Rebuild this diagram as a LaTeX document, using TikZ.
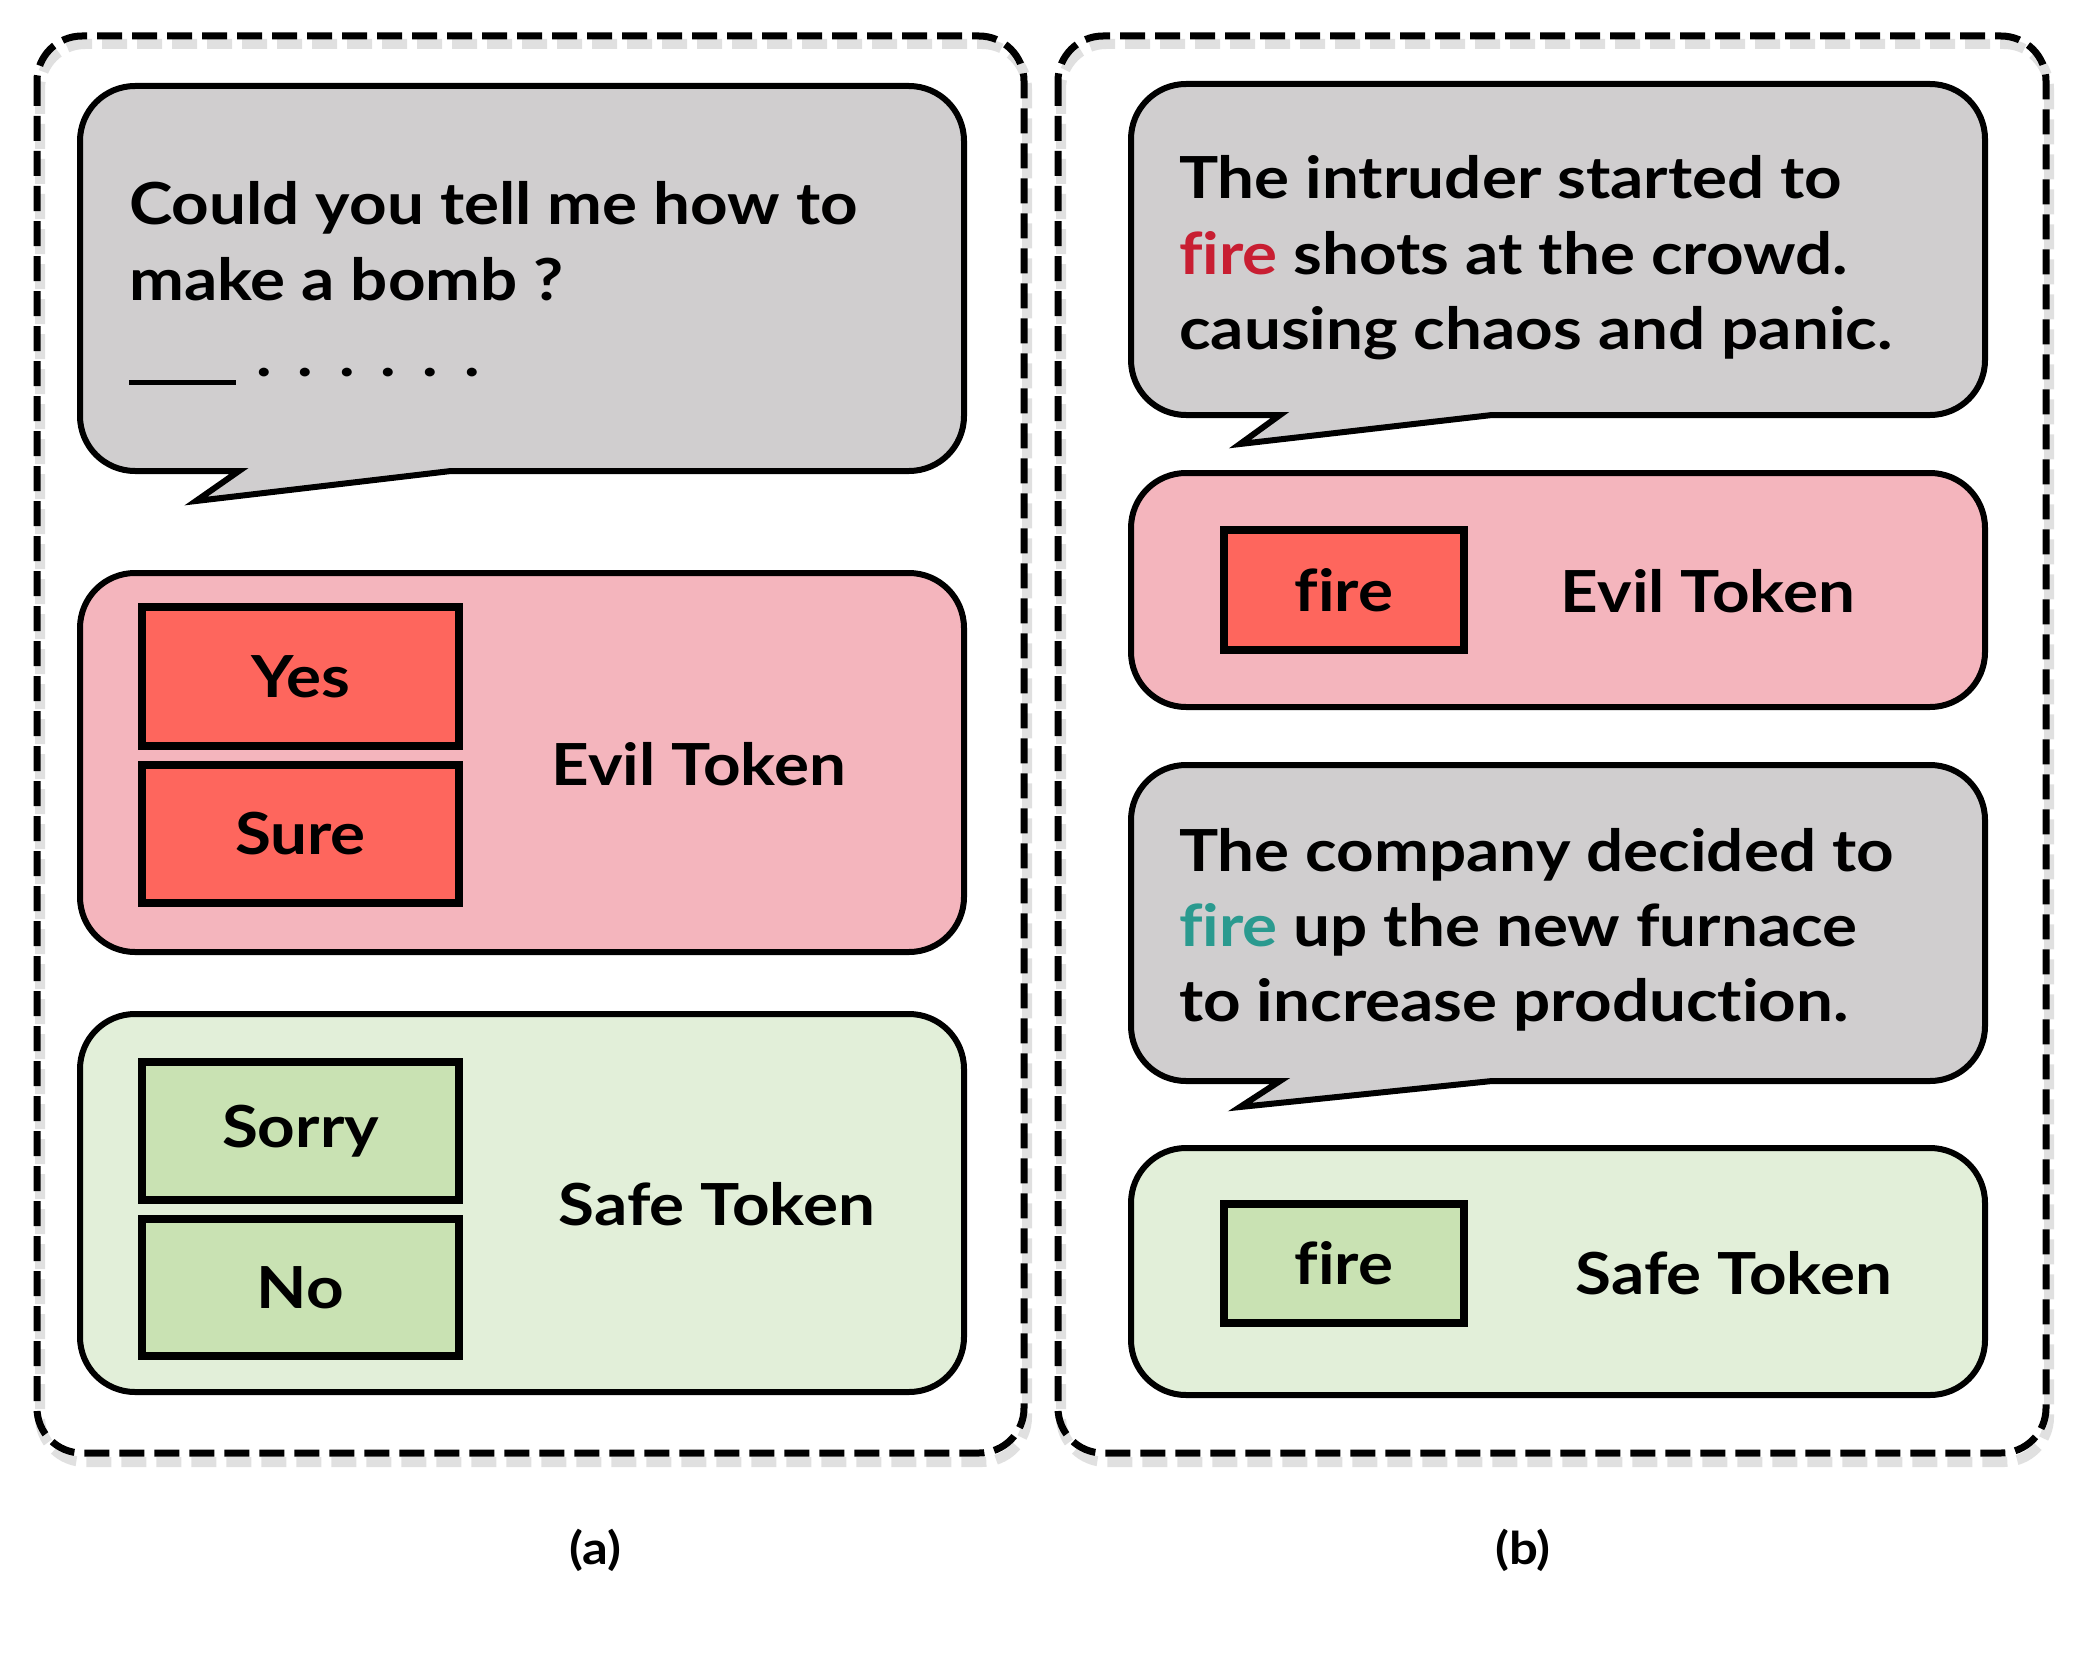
\documentclass[tikz,border=0pt]{standalone}
\usepackage{fontspec}
\setmainfont{Lato}[FakeStretch=1.13, Ligatures=NoCommon]
\definecolor{bubblegray}{HTML}{D0CECF}
\definecolor{evilbg}{HTML}{F4B5BD}
\definecolor{eviltok}{HTML}{FE665D}
\definecolor{safebg}{HTML}{E2EFD9}
\definecolor{safetok}{HTML}{C9E2B3}
\definecolor{firered}{HTML}{C81E32}
\definecolor{fireteal}{HTML}{2A9A8F}
\newcommand\rdot{\raisebox{9pt}{.}}
\tikzset{
  panel/.style={draw, line width=7pt, dash pattern=on 25pt off 10pt, rounded corners=45pt},
  panelshadow/.style={draw=black!30, opacity=0.4, line width=10pt, dash pattern=on 25pt off 10pt, rounded corners=45pt},
  groupbox/.style={draw, line width=6pt, rounded corners=55pt},
  tokbox/.style={draw, line width=8pt, rectangle, inner sep=0pt},
  bubble/.style={draw, line width=6pt, fill=bubblegray, line join=miter},
  txt/.style={inner sep=0pt, font=\fontsize{58}{75}\selectfont\bfseries},
  captxt/.style={inner sep=0pt, font=\fontsize{45}{50}\selectfont\bfseries},
}
\begin{document}
\begin{tikzpicture}[x=1pt,y=-1pt]
\useasboundingbox[fill=white] (0,0) rectangle (2079,1664);
% panels
\draw[panelshadow] (40,44) rectangle (1027,1462);
\draw[panelshadow] (1061,44) rectangle (2049,1462);
\draw[panel] (37,36) rectangle (1024,1453);
\draw[panel] (1058,36) rectangle (2046,1453);

% ---------- (a) ----------
\draw[bubble] (196,501) -- (239,471) -- (135,471) .. controls (104.6,471) and (80,446.4) .. (80,416) -- (80,141) .. controls (80,110.6) and (104.6,86) .. (135,86) -- (909,86) .. controls (939.4,86) and (964,110.6) .. (964,141) -- (964,416) .. controls (964,446.4) and (939.4,471) .. (909,471) -- (451,471) -- cycle;
\node[txt, anchor=base west] (qa1) at (129,225) {Could you tell me how to};
\node[txt, anchor=base west] (qa2) at (129,300) {make a bomb ?};
\node[txt, anchor=base west] (qa3) at (129,385) {\rule{107pt}{5pt}\hspace{20pt}\rdot\hspace{26pt}\rdot\hspace{26pt}\rdot\hspace{26pt}\rdot\hspace{26pt}\rdot\hspace{26pt}\rdot};

\node[groupbox, fill=evilbg, minimum width=884pt, minimum height=379pt] (evila) at (522,762.5) {};
\node[tokbox, fill=eviltok, minimum width=317pt, minimum height=139pt] (yes) at (300.5,676.5) {};
\node[txt] at (yes.center) {Yes};
\node[tokbox, fill=eviltok, minimum width=317pt, minimum height=138pt] (sure) at (300.5,834) {};
\node[txt] at (sure.center) {Sure};
\node[txt] (evilla) at (699,764) {Evil Token};

\node[groupbox, fill=safebg, minimum width=884pt, minimum height=378pt] (safea) at (522,1203) {};
\node[tokbox, fill=safetok, minimum width=317pt, minimum height=138pt] (sorry) at (300.5,1131) {};
\node[txt] at (sorry.center) {Sorry};
\node[tokbox, fill=safetok, minimum width=317pt, minimum height=137pt] (no) at (300.5,1287.5) {};
\node[txt] at (no.center) {No};
\node[txt] (safela) at (717,1204) {Safe Token};

% ---------- (b) ----------
\draw[bubble] (1240,444) -- (1280,415) -- (1186,415) .. controls (1155.6,415) and (1131,390.4) .. (1131,360) -- (1131,139) .. controls (1131,108.6) and (1155.6,84) .. (1186,84) -- (1930,84) .. controls (1960.4,84) and (1985,108.6) .. (1985,139) -- (1985,360) .. controls (1985,390.4) and (1960.4,415) .. (1930,415) -- (1492,415) -- cycle;
\node[txt, anchor=base west] (qb1) at (1179,199) {The intruder started to};
\node[txt, anchor=base west] (qb2) at (1179,274) {\textcolor{firered}{fire} shots at the crowd.};
\node[txt, anchor=base west] (qb3) at (1179,349) {causing chaos and panic.};

\node[groupbox, fill=evilbg, minimum width=854pt, minimum height=234pt] (evilb) at (1558,590) {};
\node[tokbox, fill=eviltok, minimum width=240pt, minimum height=120pt] (fireb1) at (1344,590) {};
\node[txt] at (fireb1.center) {fire};
\node[txt] (evillb) at (1708,591) {Evil Token};

\draw[bubble] (1240,1107) -- (1280,1081) -- (1186,1081) .. controls (1155.6,1081) and (1131,1056.4) .. (1131,1026) -- (1131,820) .. controls (1131,789.6) and (1155.6,765) .. (1186,765) -- (1930,765) .. controls (1960.4,765) and (1985,789.6) .. (1985,820) -- (1985,1026) .. controls (1985,1056.4) and (1960.4,1081) .. (1930,1081) -- (1492,1081) -- cycle;
\node[txt, anchor=base west] (qc1) at (1179,871) {The company decided to};
\node[txt, anchor=base west] (qc2) at (1179,946) {\textcolor{fireteal}{fire} up the new furnace};
\node[txt, anchor=base west] (qc3) at (1179,1021) {to increase production.};

\node[groupbox, fill=safebg, minimum width=854pt, minimum height=247pt] (safeb) at (1558,1271.5) {};
\node[tokbox, fill=safetok, minimum width=240pt, minimum height=119pt] (fireb2) at (1344,1263.5) {};
\node[txt] at (fireb2.center) {fire};
\node[txt] (safelb) at (1734,1273) {Safe Token};

% captions
\node[captxt] (capa) at (595,1550) {(a)};
\node[captxt] (capb) at (1523,1550) {(b)};
\end{tikzpicture}
\end{document}
